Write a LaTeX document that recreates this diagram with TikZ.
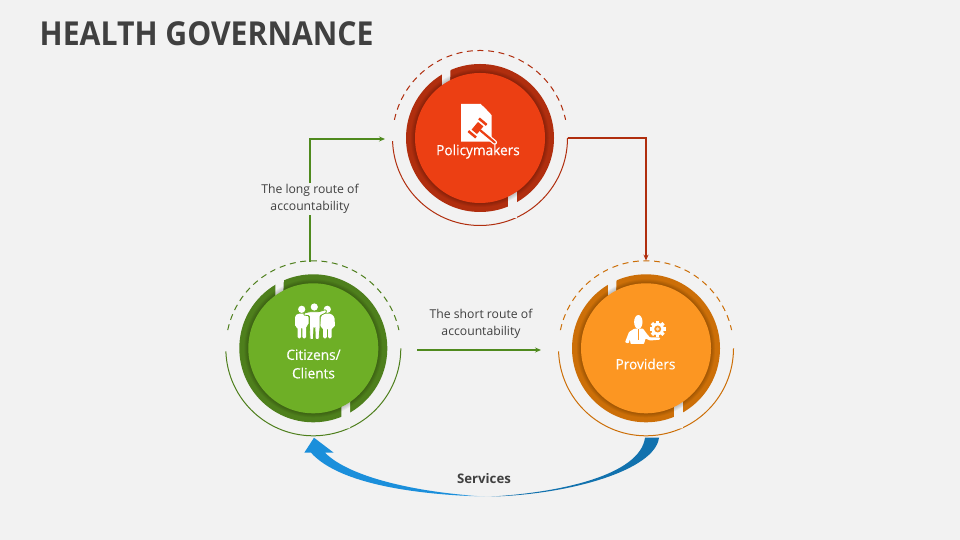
\documentclass[tikz,border=0pt]{standalone}
\usepackage{fontspec}
\setmainfont{Open Sans}
\newfontfamily\titlef[FakeStretch=0.915]{Open Sans}
\newfontfamily\hubf[FakeStretch=0.96,FakeBold=0.25]{Open Sans}
\usetikzlibrary{arrows.meta}
\definecolor{bg}{HTML}{F2F2F2}
\definecolor{ink}{HTML}{404040}
\definecolor{redA}{HTML}{EC3F13}\definecolor{redB}{HTML}{B02E0E}
\definecolor{grnA}{HTML}{6EAF26}\definecolor{grnB}{HTML}{4E7F1C}
\definecolor{orgA}{HTML}{FC9622}\definecolor{orgB}{HTML}{CC6F08}
\definecolor{connG}{HTML}{4F8A1E}
\definecolor{svcL}{HTML}{1B8FDB}\definecolor{svcM}{HTML}{BBD8EC}\definecolor{svcR}{HTML}{1272AE}
\pgfdeclarehorizontalshading{svc}{100bp}{color(0bp)=(svcL);color(47bp)=(svcL);color(50bp)=(svcM);color(53bp)=(svcR);color(100bp)=(svcR)}
\tikzset{
  x=1pt,y=1pt,
  hubnode/.style={circle,minimum size=175pt,inner sep=0pt},
  hubtext/.style={text=white,font=\hubf\fontsize{14.2}{18.5}\selectfont,align=center,inner sep=0pt},
  routetext/.style={text=ink,font=\fontsize{12.2}{17}\selectfont,align=center,inner sep=1pt},
  conn/.style={line width=1.3pt,-{Stealth[length=6pt,width=5pt]}},
  icon/.style={fill=white,draw=none},
}
\newcommand{\hub}[4]{% name, x, y, colour letters
  \node[hubnode] (#1) at (#2,#3) {};
  \begin{scope}[shift={(#2,#3)}]
    \draw[#4B,line width=1pt,dash pattern=on 6pt off 4.6pt] (168:87.5) arc[start angle=168,end angle=12,radius=87.5];
    \draw[#4B,line width=1pt] (182:87.5) arc[start angle=182,end angle=360,radius=87.5];
    \fill[#4B] (0,0) circle[radius=74];
    \fill[bg] (-38,80) -- (-29,80) -- (-30,55) -- (-38,50) -- cycle;
    \fill[bg] (28,-80) -- (36.8,-80) -- (36.8,-50) -- (28,-55) -- cycle;
    \foreach \r in {69,68,67,66}{\fill[black,opacity=.05] (0,0) circle[radius=\r];}
    \fill[#4A] (0,0) circle[radius=65];
  \end{scope}
}
\begin{document}
\begin{tikzpicture}
\useasboundingbox (0,0) rectangle (960,540);
\fill[bg] (0,0) rectangle (960,540);
\node[anchor=base west,inner sep=0pt,text=ink,font=\titlef\fontsize{33}{36}\selectfont\bfseries] (title) at (39.5,494.5) {HEALTH GOVERNANCE};

\hub{pol}{480}{402}{red}
\hub{cit}{313.3}{191.7}{grn}
\hub{pro}{646}{191.7}{org}

% route labels
\node[routetext] (longr) at (310,341) {The long route of\\accountability};
\node[routetext] (shortr) at (481,216) {The short route of\\accountability};
\node[text=ink,inner sep=0pt,font=\fontsize{13.2}{16}\selectfont\bfseries] (svc) at (484,61) {Services};

% connectors
\coordinate (citTop) at (310,278);
\coordinate (polIn) at (385,401);
\coordinate (citOut) at (417,190);
\coordinate (proIn) at (541,190);
\draw[connG,line width=1.3pt] (citTop) -- (longr.south -| citTop);
\draw[connG,conn] (longr.north -| citTop) |- (polIn);
\draw[redB,conn] (pol.east) -| (pro.north);
\draw[connG,conn] (citOut) -- (proIn);

% services arrow
\path[shading=svc,shading angle=0]
  (659,102.3) .. controls (655,70) and (570,45) .. (488,43.3)
  .. controls (420,45) and (340,55) .. (311,87.3)
  -- (304.3,87.3) -- (314,102.3) -- (333.7,87.3) -- (325,87.3)
  .. controls (350,62) and (420,47) .. (488,43.3)
  .. controls (560,47) and (640,65) .. (645,102.3) -- cycle;

% hub labels
\node[hubtext] (polT) at (478,388.5) {Policymakers};
\node[hubtext] (citT) at (313.5,176) {Citizens/\\Clients};
\node[hubtext] (proT) at (645.5,176) {Providers};

% document + gavel icon
\begin{scope}[shift={(0,540)},y=-1pt]
  \fill[icon] (461,104) -- (481,104) -- (491.7,115) -- (491.7,141.7) -- (461,141.7) -- cycle;
  \fill[redA] (481,104) -- (491.7,115) -- (491.7,104) -- cycle;
  \fill[icon] (482.5,105.5) -- (490.5,114) -- (482.5,114) -- cycle;
  \begin{scope}[shift={(477.5,128)},rotate=-40]
    \draw[white,line width=4.6pt,line cap=round] (4,0) -- (22.5,0);
    \draw[redA,line width=2.2pt,line cap=round] (4,0) -- (22.5,0);
    \fill[redA] (-3.5,-5) rectangle (3.5,5);
    \fill[redA] (-5,-9.5) rectangle (5,-7);
    \fill[redA] (-5,7) rectangle (5,9.5);
  \end{scope}

  % people icon
  \fill[icon] (301.7,309.3) circle[radius=3.6];
  \fill[icon] (327.3,309.3) circle[radius=3.6];
  \fill[icon,rounded corners=1.5pt] (295,316) -- (298,313.6) -- (306,313.6) -- (308.5,316) -- (308.5,325) -- (306,326) -- (306,338.5) -- (302.3,338.5) -- (302.3,327) -- (301,327) -- (301,338.5) -- (297.5,338.5) -- (297.5,327) -- (295,327) -- cycle;
  \fill[icon,rounded corners=1.5pt] (321,316) -- (324,313.6) -- (331,313.6) -- (334.5,317) -- (335,327) -- (331.5,328) -- (331.5,338.5) -- (328,338.5) -- (328,328) -- (326.8,328) -- (326.8,338.5) -- (323.2,338.5) -- (323.2,328) -- (320,327) -- cycle;
  \draw[grnA,line width=.8pt,fill=white,rounded corners=1pt] (304,313) -- (310,311.7) -- (319,311.7) -- (326,309.5) -- (326.5,312.5) -- (320,315.8) -- (320,327) -- (319,339.6) -- (315.3,339.6) -- (315,328) -- (313.8,328) -- (313.5,339.6) -- (310,339.6) -- (309.5,327) -- (309.5,315.8) -- (303.5,315) -- cycle;
  \fill[icon] (314.3,307) circle[radius=3.6];

  % provider icon
  \fill[icon] (638.3,322) ellipse[x radius=4.2,y radius=7];
  \fill[icon,rounded corners=.8pt] (625,342.3) -- (629,332) -- (634.5,328.6) -- (643,328.6) -- (647,334) -- (650,337.5) -- (660,337.5) -- (660,339.7) -- (650,340.5) -- (645.5,338.5) -- (644,344) -- (630.5,344) -- (630,339) -- (628.5,343.5) -- cycle;
  \draw[orgA,line width=.9pt] (638.3,329) -- (638.3,340);
  \foreach \a in {0,45,...,315}{\fill[icon,shift={(657.7,329)},rotate=\a] (-1.7,5) rectangle (1.7,8.2);}
  \fill[icon] (657.7,329) circle[radius=6.2];
  \fill[orgA] (657.7,329) circle[radius=3.5];
  \fill[white!70!orgA] (657.7,329) circle[radius=1.8];
\end{scope}
\end{tikzpicture}
\end{document}
